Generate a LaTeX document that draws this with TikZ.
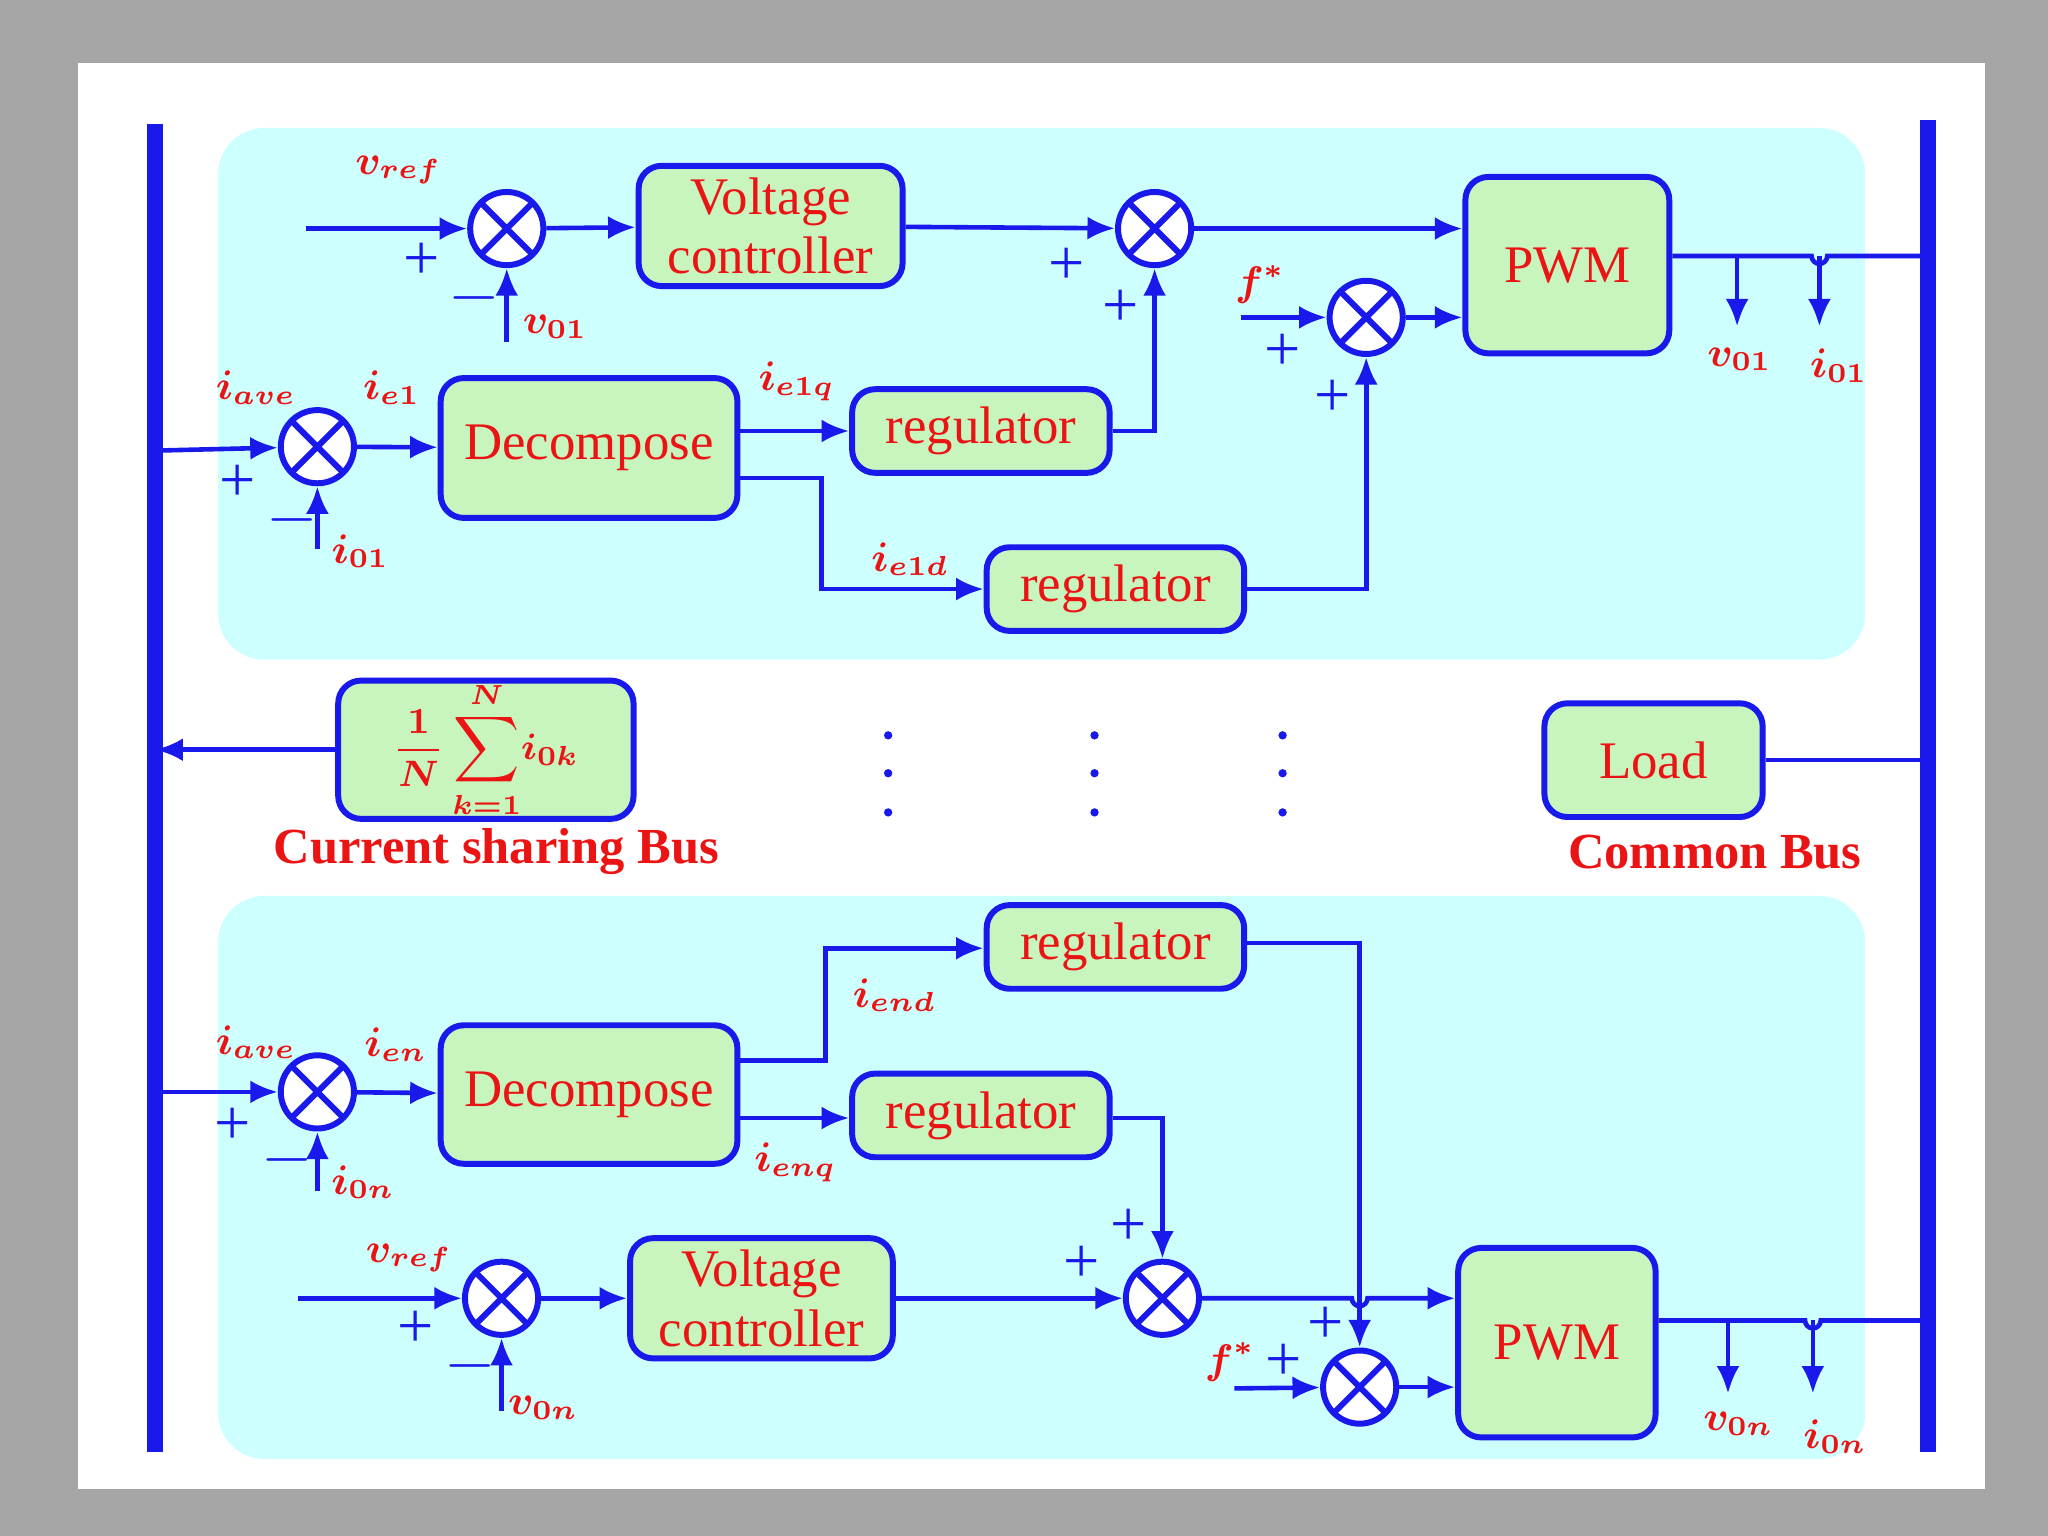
\documentclass[tikz,border=0pt]{standalone}
\usepackage{fontspec}
\setmainfont{Liberation Serif}
\usetikzlibrary{arrows.meta}
\definecolor{bl}{RGB}{25,25,235}
\definecolor{rd}{RGB}{235,20,20}
\definecolor{gf}{RGB}{200,245,190}
\definecolor{cy}{RGB}{205,255,255}
\definecolor{gr}{RGB}{165,165,165}
\newsavebox{\avgb}
\begin{document}
\sbox{\avgb}{\color{rd}\fontsize{8.5}{10}\selectfont\boldmath$\displaystyle\frac{1}{N}\sum_{k=1}^{N}\! i_{0k}$}%
\begin{tikzpicture}[x=0.01cm,y=-0.01cm,
 box/.style={draw=bl,line width=1.3pt,fill=gf,rounded corners=5pt,text=rd,font=\fontsize{11.5}{13}\selectfont,align=center,inner sep=0pt},
 sj/.style={circle,draw=bl,line width=1.3pt,fill=white,minimum size=0.56cm,inner sep=0pt,
   path picture={\draw[bl,line width=1.3pt] (path picture bounding box.south west)--(path picture bounding box.north east) (path picture bounding box.north west)--(path picture bounding box.south east);}},
 ln/.style={draw=bl,line width=1pt},
 ar/.style={ln,-{Latex[length=6pt,width=5pt]}},
 lb/.style={text=rd,font=\fontsize{9}{11}\selectfont\bfseries\boldmath,inner sep=0pt},
 pm/.style={text=bl,font=\fontsize{14}{14}\selectfont,inner sep=0pt},
 bt/.style={text=rd,font=\fontsize{11}{13}\selectfont\bfseries},
 bus/.style={draw=bl,line width=3.5pt}]
\fill[gr] (0,0) rectangle (1568,1176);
\fill[white] (60,48) rectangle (1520,1140);
\fill[cy,rounded corners=10pt] (167,98) rectangle (1428,505);
\fill[cy,rounded corners=10pt] (167,686) rectangle (1428,1117);
\coordinate (LT) at (119,95); \coordinate (LB) at (119,1112);
\coordinate (RT) at (1476,92); \coordinate (RB) at (1476,1112);
\draw[bus] (LT)--(LB); \draw[bus] (RT)--(RB);
% ---- top
\node[sj] (s1) at (388,175) {};
\node[box,minimum width=2.02cm,minimum height=0.92cm] (vc1) at (590,173) {Voltage\\controller};
\node[sj] (s2) at (884,175) {};
\node[sj] (s3) at (1046,243) {};
\node[box,minimum width=1.56cm,minimum height=1.35cm] (pwm1) at (1200,203) {PWM};
\node[sj] (s4) at (243,342) {};
\node[box,minimum width=2.27cm,minimum height=1.07cm] (dc1) at (451,343) {Decompose};
\node[box,minimum width=1.97cm,minimum height=0.64cm] (rg1) at (751,330) {regulator};
\node[box,minimum width=1.97cm,minimum height=0.64cm] (rg2) at (854,451) {regulator};
\coordinate (vin1) at (234,175); \coordinate (vb1) at (388,262);
\coordinate (y366) at (0,366);
\draw[ar] (vin1)--(s1); \draw[ar] (vb1)--(s1);
\draw[ar] (s1)--(vc1); \draw[ar] (vc1)--(s2);
\draw[ar] (s2)--(pwm1.west|-s2);
\coordinate (fin1) at (950,243); \draw[ar] (fin1)--(s3); \draw[ar] (s3)--(pwm1.west|-s3);
\coordinate (ia1) at (119,345); \draw[ar] (ia1)--(s4);
\coordinate (ib1) at (243,420); \draw[ar] (ib1)--(s4);
\draw[ar] (s4)--(dc1);
\draw[ar] (dc1.east|-rg1)--(rg1);
\draw[ar] (rg1.east)-|(s2.south);
\draw[ar] (dc1.east|-y366)-|(629,451)--(rg2.west);
\draw[ar] (rg2.east)-|(s3.south);
\coordinate (o1) at (1476,196);
\draw[ln] (pwm1.east|-o1)--(1387,196) arc(180:0:6)--(o1);
\draw[ar] (1330,196)--(1330,250); \draw[ar] (1393,196)--(1393,250);
\node[lb] at (305,130) {$v_{ref}$};
\node[pm] at (323,200) {+}; \node[pm] at (363,228) {$-$};
\node[lb] at (425,250) {$v_{01}$};
\node[pm] at (817,204) {+}; \node[pm] at (858,236) {+};
\node[lb] at (965,218) {$f^{*}$};
\node[pm] at (982,270) {+}; \node[pm] at (1020,305) {+};
\node[lb] at (1332,275) {$v_{01}$}; \node[lb] at (1408,280) {$i_{01}$};
\node[lb] at (196,297) {$i_{ave}$}; \node[lb] at (300,297) {$i_{e1}$};
\node[pm] at (182,370) {+}; \node[pm] at (224,398) {$-$};
\node[lb] at (276,422) {$i_{01}$};
\node[lb] at (610,292) {$i_{e1q}$}; \node[lb] at (697,428) {$i_{e1d}$};
% ---- middle
\node[box,minimum width=2.26cm,minimum height=1.04cm] (avgbox) at (372,574) {\usebox{\avgb}};
\coordinate (la) at (119,574); \draw[ar] (avgbox)--(la);
\node[bt] at (380,652) {Current sharing Bus};
\node[box,minimum width=1.67cm,minimum height=0.87cm] (load) at (1266,582) {Load};
\coordinate (lr) at (1476,582); \draw[ln] (load)--(lr);
\node[bt] at (1313,652) {Common Bus};
\foreach \x in {680,838,982}{\foreach \y in {563,592,622}{\fill[bl] (\x,\y) circle (3.2);}}
% ---- bottom
\node[box,minimum width=1.97cm,minimum height=0.64cm] (rg3) at (854,725) {regulator};
\node[box,minimum width=2.27cm,minimum height=1.06cm] (dc2) at (451,838) {Decompose};
\node[box,minimum width=1.97cm,minimum height=0.64cm] (rg4) at (751,854) {regulator};
\node[sj] (s6) at (243,836) {};
\node[sj] (s7) at (384,994) {};
\node[box,minimum width=2.01cm,minimum height=0.92cm] (vc2) at (583,994) {Voltage\\controller};
\node[sj] (s5) at (890,994) {};
\node[sj] (s8) at (1041,1062) {};
\node[box,minimum width=1.51cm,minimum height=1.45cm] (pwm2) at (1192,1028) {PWM};
\coordinate (y812) at (0,812); \coordinate (y726) at (0,726);
\coordinate (y856) at (0,856); \coordinate (y722) at (0,722);
\coordinate (ia2) at (119,836); \draw[ar] (ia2)--(s6);
\coordinate (ib2) at (243,912); \draw[ar] (ib2)--(s6);
\draw[ar] (s6)--(dc2);
\draw[ar] (dc2.east|-y812)-|(632,726)--(rg3.west|-y726);
\draw[ar] (dc2.east|-y856)--(rg4.west|-y856);
\draw[ar] (rg3.east|-y722)-|(s8.north);
\draw[ar] (rg4.east|-y856)-|(s5.north);
\coordinate (vin2) at (228,994); \draw[ar] (vin2)--(s7);
\coordinate (vb2) at (384,1080); \draw[ar] (vb2)--(s7);
\draw[ar] (s7)--(vc2); \draw[ar] (vc2)--(s5);
\draw[ar] (s5)--(1035,994) arc(180:0:6)--(pwm2.west|-s5);
\coordinate (fin2) at (945,1063); \draw[ar] (fin2)--(s8); \draw[ar] (s8)--(pwm2.west|-s8);
\coordinate (o2) at (1476,1011);
\draw[ln] (pwm2.east|-o2)--(1382,1011) arc(180:0:6)--(o2);
\draw[ar] (1323,1011)--(1323,1067); \draw[ar] (1388,1011)--(1388,1067);
\node[lb] at (196,798) {$i_{ave}$}; \node[lb] at (303,800) {$i_{en}$};
\node[pm] at (178,862) {+}; \node[pm] at (220,888) {$-$};
\node[lb] at (278,905) {$i_{0n}$};
\node[lb] at (685,762) {$i_{end}$}; \node[lb] at (609,890) {$i_{enq}$};
\node[lb] at (313,963) {$v_{ref}$};
\node[pm] at (318,1018) {+}; \node[pm] at (360,1046) {$-$};
\node[lb] at (416,1078) {$v_{0n}$};
\node[pm] at (828,968) {+}; \node[pm] at (864,940) {+};
\node[lb] at (942,1043) {$f^{*}$};
\node[pm] at (983,1043) {+}; \node[pm] at (1015,1015) {+};
\node[lb] at (1331,1090) {$v_{0n}$}; \node[lb] at (1405,1100) {$i_{0n}$};
\end{tikzpicture}
\end{document}
